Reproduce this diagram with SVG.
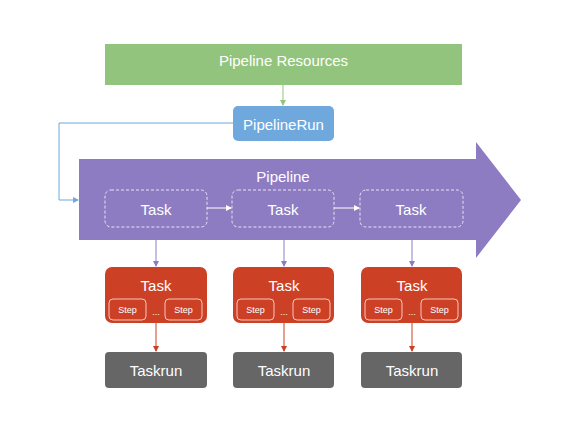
<svg xmlns="http://www.w3.org/2000/svg" width="567" height="425" viewBox="0 0 567 425">
<defs>
<marker id="ag" markerWidth="6" markerHeight="6" refX="5" refY="3" orient="auto" markerUnits="userSpaceOnUse"><path d="M0,0 L6,3 L0,6 z" fill="#93c47d"/></marker>
<marker id="ab" markerWidth="6" markerHeight="6" refX="5" refY="3" orient="auto" markerUnits="userSpaceOnUse"><path d="M0,0 L6,3 L0,6 z" fill="#6fa8dc"/></marker>
<marker id="aw" markerWidth="6" markerHeight="6" refX="5" refY="3" orient="auto" markerUnits="userSpaceOnUse"><path d="M0,0 L6,3 L0,6 z" fill="#ffffff"/></marker>
<marker id="ap" markerWidth="6" markerHeight="6" refX="5" refY="3" orient="auto" markerUnits="userSpaceOnUse"><path d="M0,0 L6,3 L0,6 z" fill="#8e7cc3"/></marker>
<marker id="ar" markerWidth="6" markerHeight="6" refX="5" refY="3" orient="auto" markerUnits="userSpaceOnUse"><path d="M0,0 L6,3 L0,6 z" fill="#cc4125"/></marker>
</defs>
<style>
text{font-family:"Liberation Sans",Arial,sans-serif;fill:#fff;text-anchor:middle;dominant-baseline:central}
.big{font-size:15px}
.step{font-size:9px}
.dash{fill:none;stroke:#e6e0f3;stroke-width:1;stroke-dasharray:3,2}
.red{fill:#cc4125}
.stepbox{fill:none;stroke:#f4c7bd;stroke-width:1}
.gray{fill:#666666}
.c{fill:none;stroke-width:1}
</style>
<rect width="567" height="425" fill="#ffffff"/>
<g id="connectors">
<line class="c" x1="283" y1="85" x2="283" y2="105" stroke="#93c47d" marker-end="url(#ag)"/>
<polyline class="c" points="233,123 59,123 59,200 78,200" stroke="#6fa8dc" marker-end="url(#ab)"/>
<line class="c" x1="156" y1="240" x2="156" y2="266" stroke="#8e7cc3" marker-end="url(#ap)"/>
<line class="c" x1="284" y1="240" x2="284" y2="266" stroke="#8e7cc3" marker-end="url(#ap)"/>
<line class="c" x1="412" y1="240" x2="412" y2="266" stroke="#8e7cc3" marker-end="url(#ap)"/>
<line class="c" x1="156" y1="323" x2="156" y2="351" stroke="#cc4125" marker-end="url(#ar)"/>
<line class="c" x1="284" y1="323" x2="284" y2="351" stroke="#cc4125" marker-end="url(#ar)"/>
<line class="c" x1="412" y1="323" x2="412" y2="351" stroke="#cc4125" marker-end="url(#ar)"/>
</g>
<g id="pipeline-resources">
<rect x="105" y="44" width="357" height="41" fill="#93c47d"/>
<text class="big" x="283.5" y="60">Pipeline Resources</text>
</g>
<g id="pipelinerun">
<rect x="233" y="106" width="101" height="35" rx="5" fill="#6fa8dc"/>
<text class="big" x="283.5" y="124">PipelineRun</text>
</g>
<g id="pipeline">
<path d="M79,159 L476,159 L476,142 L521,200 L476,258 L476,240 L79,240 z" fill="#8e7cc3"/>
<text class="big" x="283" y="176">Pipeline</text>
</g>
<g id="ptask1">
<rect class="dash" x="105" y="190" width="102" height="37" rx="6"/>
<text class="big" x="156" y="209">Task</text>
</g>
<g id="ptask2">
<rect class="dash" x="232" y="190" width="102" height="37" rx="6"/>
<text class="big" x="283" y="209">Task</text>
</g>
<g id="ptask3">
<rect class="dash" x="360" y="190" width="103" height="37" rx="6"/>
<text class="big" x="411" y="209">Task</text>
</g>
<g id="pipeline-arrows">
<line class="c" x1="207" y1="208" x2="231" y2="208" stroke="#ffffff" marker-end="url(#aw)"/>
<line class="c" x1="334" y1="208" x2="359" y2="208" stroke="#ffffff" marker-end="url(#aw)"/>
</g>
<g id="task1">
<rect class="red" x="105" y="267" width="102" height="56" rx="7"/>
<text class="big" x="156" y="285">Task</text>
<rect class="stepbox" x="109" y="299" width="37" height="21" rx="4"/>
<text class="step" x="127.5" y="309.5">Step</text>
<text class="step" x="156" y="312">...</text>
<rect class="stepbox" x="165" y="299" width="37" height="21" rx="4"/>
<text class="step" x="183.5" y="309.5">Step</text>
</g>
<g id="task2">
<rect class="red" x="233" y="267" width="101" height="56" rx="7"/>
<text class="big" x="284" y="285">Task</text>
<rect class="stepbox" x="237" y="299" width="37" height="21" rx="4"/>
<text class="step" x="255.5" y="309.5">Step</text>
<text class="step" x="284" y="312">...</text>
<rect class="stepbox" x="293" y="299" width="37" height="21" rx="4"/>
<text class="step" x="311.5" y="309.5">Step</text>
</g>
<g id="task3">
<rect class="red" x="361" y="267" width="101" height="56" rx="7"/>
<text class="big" x="412" y="285">Task</text>
<rect class="stepbox" x="365" y="299" width="37" height="21" rx="4"/>
<text class="step" x="383.5" y="309.5">Step</text>
<text class="step" x="412" y="312">...</text>
<rect class="stepbox" x="421" y="299" width="37" height="21" rx="4"/>
<text class="step" x="439.5" y="309.5">Step</text>
</g>
<g id="taskrun1">
<rect class="gray" x="105" y="352" width="102" height="36" rx="4"/>
<text class="big" x="156" y="370">Taskrun</text>
</g>
<g id="taskrun2">
<rect class="gray" x="233" y="352" width="101" height="36" rx="4"/>
<text class="big" x="284" y="370">Taskrun</text>
</g>
<g id="taskrun3">
<rect class="gray" x="361" y="352" width="101" height="36" rx="4"/>
<text class="big" x="412" y="370">Taskrun</text>
</g>
</svg>
